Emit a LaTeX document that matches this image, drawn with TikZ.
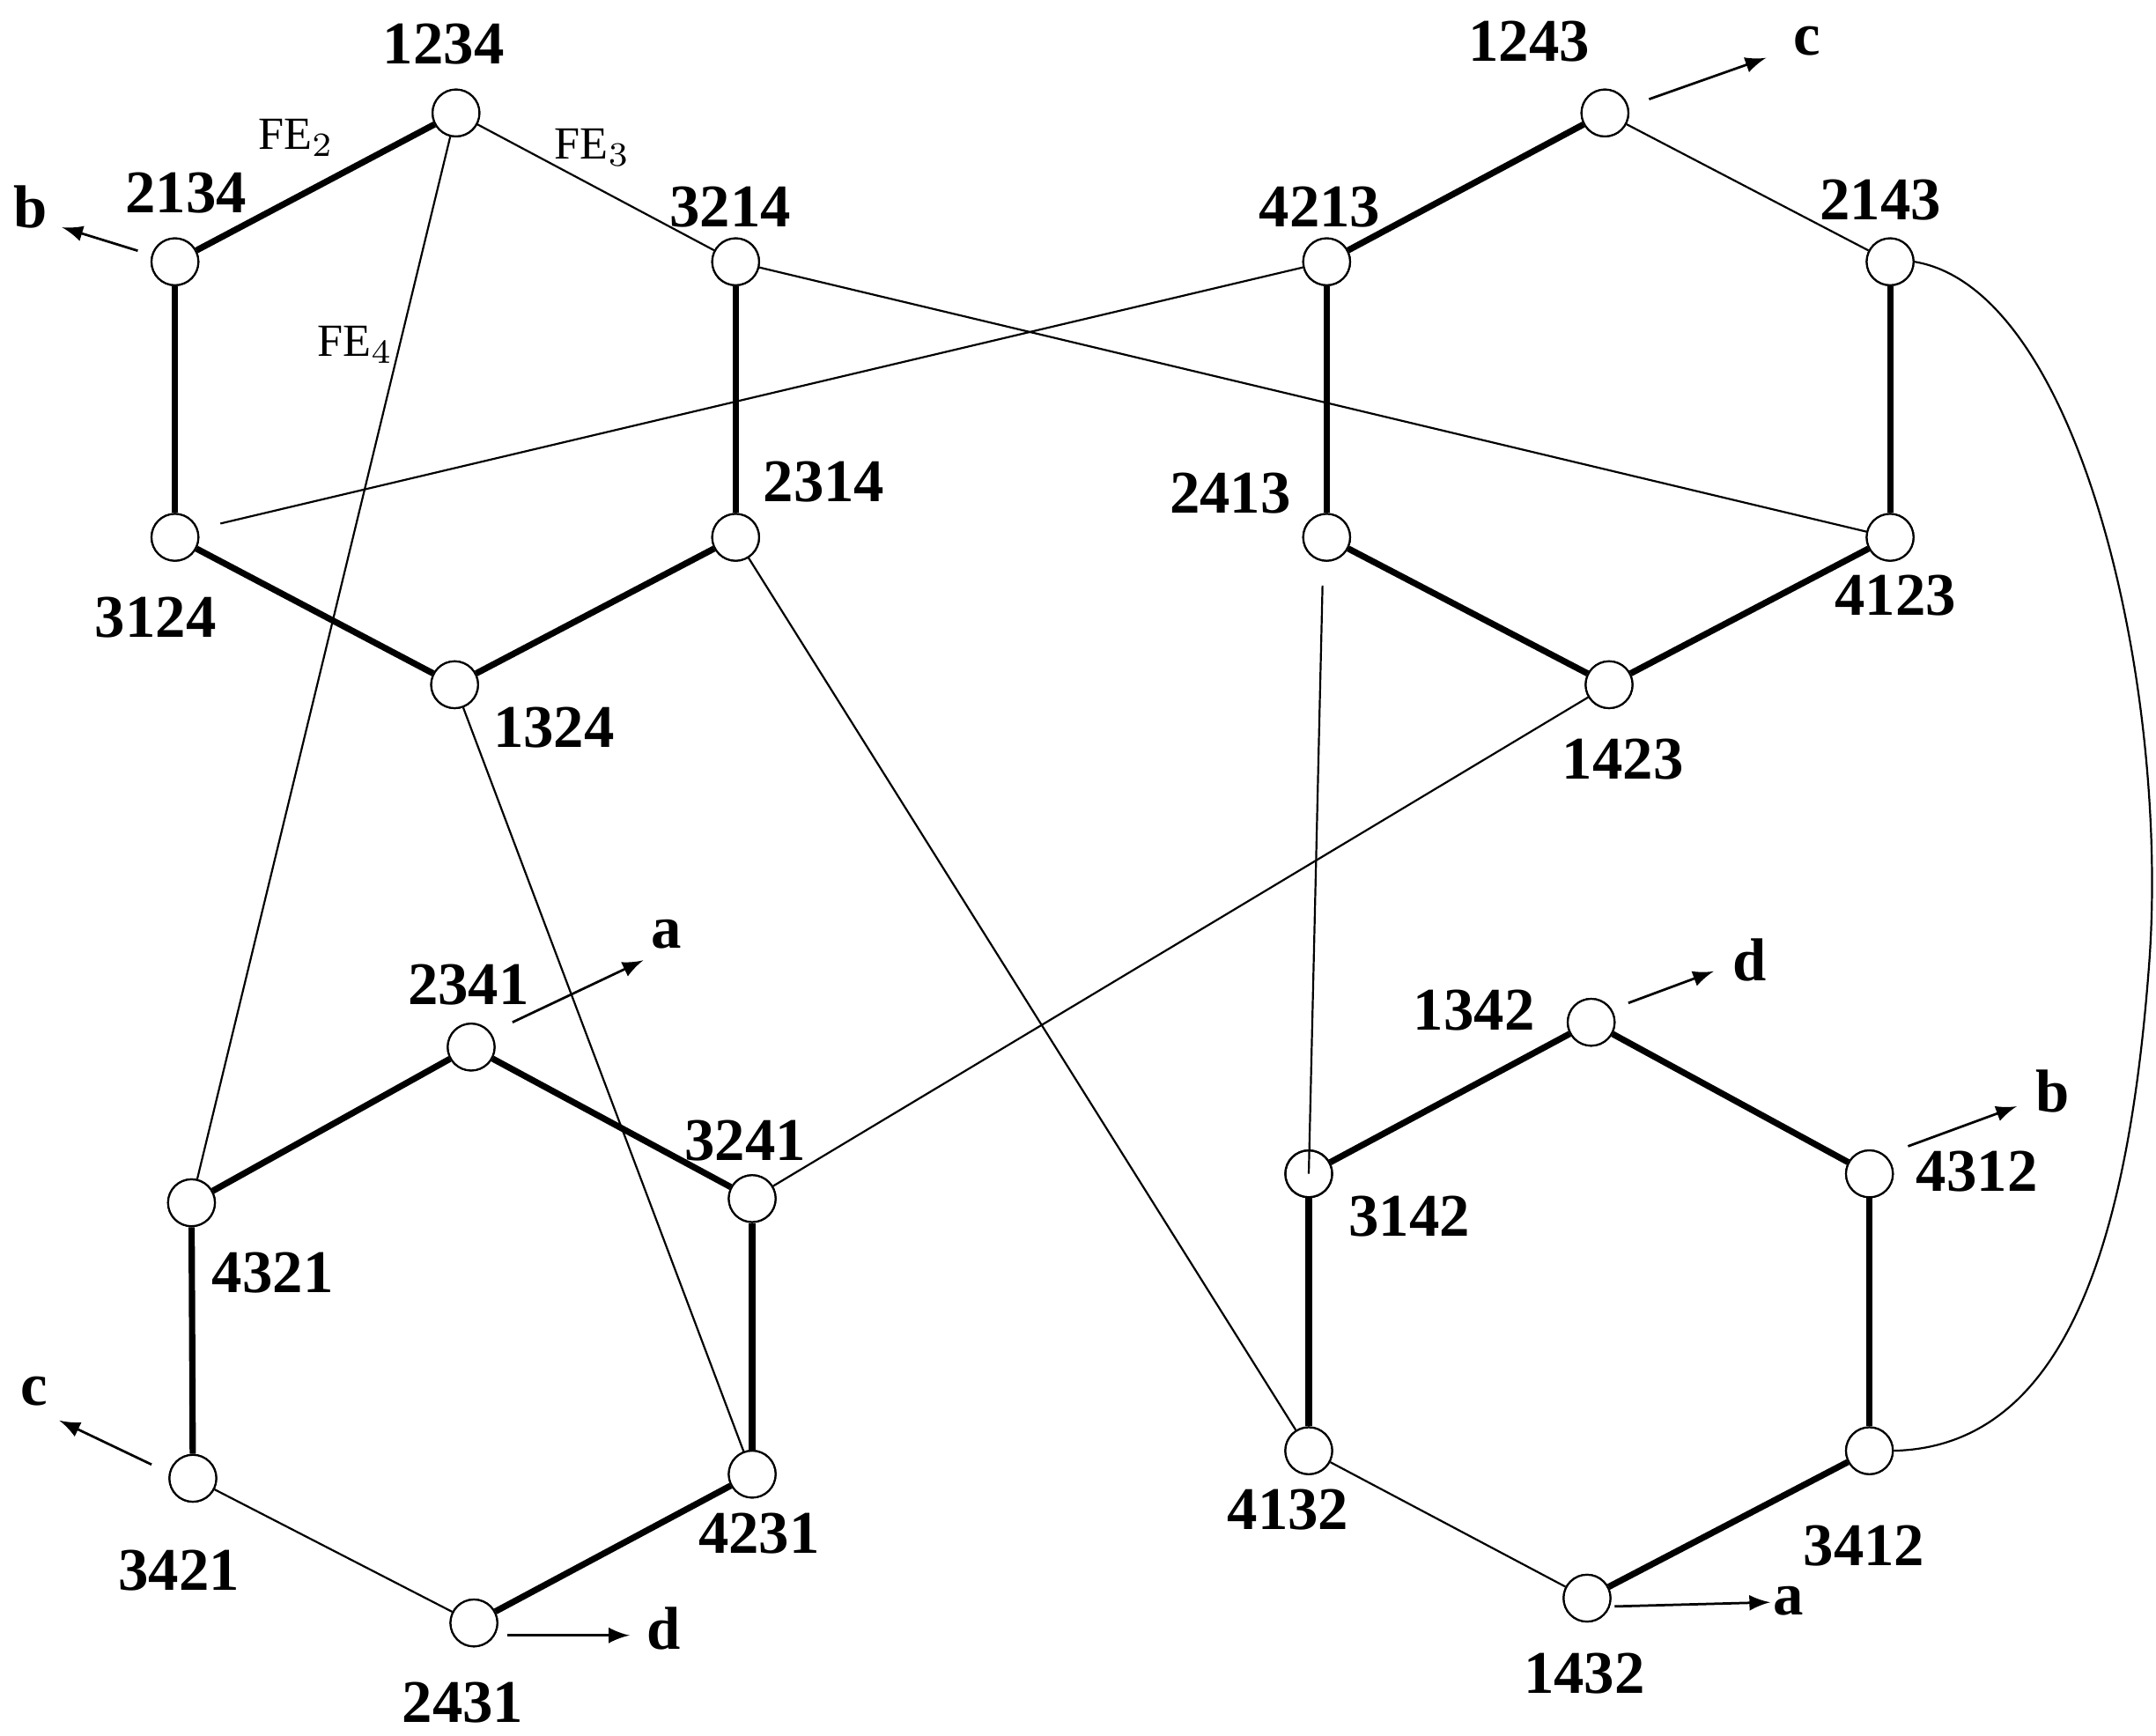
\documentclass[tikz,border=0pt]{standalone}
\usepackage{fontspec}
\setmainfont{Liberation Serif}
\begin{document}
\begin{tikzpicture}[x=0.01cm,y=-0.01cm,
 v/.style={circle,draw,fill=white,minimum size=0.34cm,inner sep=0pt},
 lb/.style={font=\fontsize{12.5}{14}\selectfont\bfseries},
 fe/.style={font=\fontsize{9.5}{11}\selectfont},
 thk/.style={line width=1.3pt},
 thn/.style={line width=0.4pt},
 ar/.style={-latex,line width=0.5pt}]
\useasboundingbox (0,0) rectangle (1565,1260);
% nodes
\foreach \n/\x/\y in {1234/331/82,2134/127/190,3214/534/190,3124/127/390,2314/534/390,1324/330/497,
 1243/1165/82,4213/963/190,2143/1372/190,2413/963/390,4123/1372/390,1423/1168/497,
 2341/342/760,4321/139/873,3241/546/870,3421/140/1073,4231/546/1070,2431/344/1178,
 1342/1155/742,3142/950/852,4312/1357/852,4132/950/1053,3412/1357/1053,1432/1152/1160}
 \node[v] (n\n) at (\x,\y) {};
% thin cross edges (behind)
\begin{scope}[on background layer/.style={}]
\end{scope}
\draw[thn] (n1234)--(n4321);
\draw[thn] (n3214)--(n4123);
\coordinate (s3124) at (160,380);
\draw[thn] (s3124)--(n4213);
\draw[thn] (n2314)--(n4132);
\draw[thn] (n1324)--(n4231);
\coordinate (s2413) at (960,425);
\draw[thn] (s2413)--(n3142.center);
\draw[thn] (n1423)--(n3241);
\draw[thn] (n2143.east) .. controls (1510,210) and (1575,500) .. (1560,700) .. controls (1545,900) and (1500,1050) .. (n3412.east);
% hexagons
\draw[thk] (n1234)--(n2134); \draw[thk] (n2134)--(n3124); \draw[thk] (n3124)--(n1324);
\draw[thk] (n1324)--(n2314); \draw[thk] (n2314)--(n3214); \draw[thn] (n1234)--(n3214);
\draw[thk] (n1243)--(n4213); \draw[thk] (n4213)--(n2413); \draw[thk] (n2413)--(n1423);
\draw[thk] (n1423)--(n4123); \draw[thk] (n4123)--(n2143); \draw[thn] (n2143)--(n1243);
\draw[thk] (n2341)--(n4321); \draw[thk] (n2341)--(n3241); \draw[thk] (n3241)--(n4231);
\draw[thk] (n4231)--(n2431); \draw[thn] (n2431)--(n3421); \draw[thk] (n3421)--(n4321);
\draw[thk] (n1342)--(n3142); \draw[thk] (n1342)--(n4312); \draw[thk] (n4312)--(n3412);
\draw[thk] (n3412)--(n1432); \draw[thn] (n1432)--(n4132); \draw[thk] (n4132)--(n3142);
% redraw circles on top
\foreach \n/\x/\y in {1234/331/82,2134/127/190,3214/534/190,3124/127/390,2314/534/390,1324/330/497,
 1243/1165/82,4213/963/190,2143/1372/190,2413/963/390,4123/1372/390,1423/1168/497,
 2341/342/760,4321/139/873,3241/546/870,3421/140/1073,4231/546/1070,2431/344/1178,
 1342/1155/742,4312/1357/852,4132/950/1053,3412/1357/1053,1432/1152/1160}
 \node[v] at (\x,\y) {};
\node[circle,draw,minimum size=0.34cm,inner sep=0pt] at (950,852) {};
% labels
\foreach \t/\x/\y in {1234/322/32,2134/135/140,3214/530/150,3124/113/448,2314/598/350,1324/402/528,
 1243/1110/30,4213/958/150,2143/1365/145,2413/893/358,4123/1376/432,1423/1178/551,
 2341/340/715,4321/198/924,3241/541/828,3421/130/1140,4231/551/1113,2431/336/1236,
 1342/1070/733,3142/1023/883,4312/1435/850,4132/935/1096,3412/1353/1122,1432/1150/1215}
 \node[lb] (l\t) at (\x,\y) {\t};
\node[fe] (fe2) at (215,100) {FE$_2$};
\node[fe] (fe3) at (430,107) {FE$_3$};
\node[fe] (fe4) at (258,250) {FE$_4$};
% arrows
\node[lb] (b1) at (22,150) {b};
\coordinate (b1t) at (45,165); \coordinate (b1s) at (100,182);
\draw[ar] (b1s)--(b1t);
\node[lb] (c1) at (1312,30) {c};
\coordinate (c1s) at (1197,72); \coordinate (c1t) at (1282,42);
\draw[ar] (c1s)--(c1t);
\node[lb] (a1) at (484,678) {a};
\coordinate (a1s) at (372,742); \coordinate (a1t) at (467,697);
\draw[ar] (a1s)--(a1t);
\node[lb] (c2) at (25,1010) {c};
\coordinate (c2s) at (110,1063); \coordinate (c2t) at (43,1031);
\draw[ar] (c2s)--(c2t);
\node[lb] (d1) at (482,1182) {d};
\coordinate (d1s) at (368,1187); \coordinate (d1t) at (457,1187);
\draw[ar] (d1s)--(d1t);
\node[lb] (d2) at (1270,697) {d};
\coordinate (d2s) at (1182,728); \coordinate (d2t) at (1244,705);
\draw[ar] (d2s)--(d2t);
\node[lb] (b2) at (1490,792) {b};
\coordinate (b2s) at (1385,832); \coordinate (b2t) at (1464,803);
\draw[ar] (b2s)--(b2t);
\node[lb] (a2) at (1298,1162) {a};
\coordinate (a2s) at (1172,1166); \coordinate (a2t) at (1285,1163);
\draw[ar] (a2s)--(a2t);
\end{tikzpicture}
\end{document}
